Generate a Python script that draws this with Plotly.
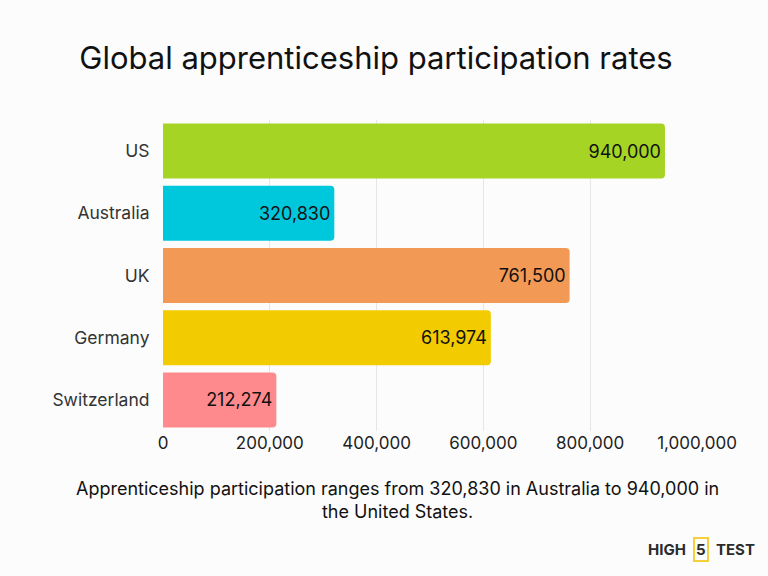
import plotly.graph_objects as go

countries = ["US", "Australia", "UK", "Germany", "Switzerland"]
values = [940000, 320830, 761500, 613974, 212274]
labels = ["940,000", "320,830", "761,500", "613,974", "212,274"]
colors = ["#a5d424", "#00c8dc", "#f29a55", "#f2cb00", "#ff8a8e"]
tick_vals = [0, 200000, 400000, 600000, 800000, 1000000]
tick_text = ["0", "200,000", "400,000", "600,000", "800,000", "1,000,000"]

FONT = "Inter"
W, H = 768, 576
L, R, T, B = 163, 71, 120, 145
pw = W - L - R
ph = H - T - B

def px_x(x):
    return (x - L) / pw

def px_y(y):
    return (H - B - y) / ph

fig = go.Figure(go.Bar(
    y=countries, x=values, orientation="h",
    marker=dict(color=colors, line=dict(width=0)),
    text=labels, textposition="inside", insidetextanchor="end",
    textfont=dict(family=FONT, size=18, color="#111111"),
    width=0.885,
))

fig.update_layout(
    width=W, height=H,
    margin=dict(l=L, r=R, t=T, b=B),
    paper_bgcolor="#fcfcfc", plot_bgcolor="#fcfcfc",
    barcornerradius=4,
    showlegend=False,
    title=dict(text="Global apprenticeship participation rates",
               font=dict(family=FONT, size=31, color="#111111"),
               x=376 / W, xanchor="center", y=1 - 58 / H, yanchor="middle"),
    xaxis=dict(range=[0, 1000000], tickvals=tick_vals, ticktext=tick_text,
               showgrid=True, gridcolor="#e6e6e6", gridwidth=1, zeroline=False,
               tickfont=dict(family=FONT, size=17, color="#222222"),
               ticks="", showline=False, fixedrange=True),
    yaxis=dict(autorange="reversed", showgrid=False, zeroline=False,
               tickfont=dict(family=FONT, size=17.5, color="#333333"),
               ticks="outside", ticklen=9, tickcolor="rgba(0,0,0,0)",
               showline=False, range=[4.5, -0.5]),
    annotations=[
        dict(text="Apprenticeship participation ranges from 320,830 in Australia to 940,000 in<br>the United States.",
             xref="paper", yref="paper", x=px_x(397), y=px_y(500),
             xanchor="center", yanchor="middle", showarrow=False, align="center",
             font=dict(family=FONT, size=18, color="#111111")),
        dict(text="<b>HIGH</b>", xref="paper", yref="paper", x=px_x(688), y=px_y(549),
             xanchor="right", yanchor="middle", showarrow=False,
             font=dict(family=FONT, size=15, color="#2b2b2b")),
        dict(text="<b>5</b>", xref="paper", yref="paper", x=px_x(701), y=px_y(549),
             xanchor="center", yanchor="middle", showarrow=False,
             bordercolor="#f5d03a", borderwidth=2, borderpad=1,
             font=dict(family=FONT, size=15, color="#2b2b2b")),
        dict(text="<b>TEST</b>", xref="paper", yref="paper", x=px_x(714), y=px_y(549),
             xanchor="left", yanchor="middle", showarrow=False,
             font=dict(family=FONT, size=15, color="#2b2b2b")),
    ],
)

fig.write_html("out.html")
